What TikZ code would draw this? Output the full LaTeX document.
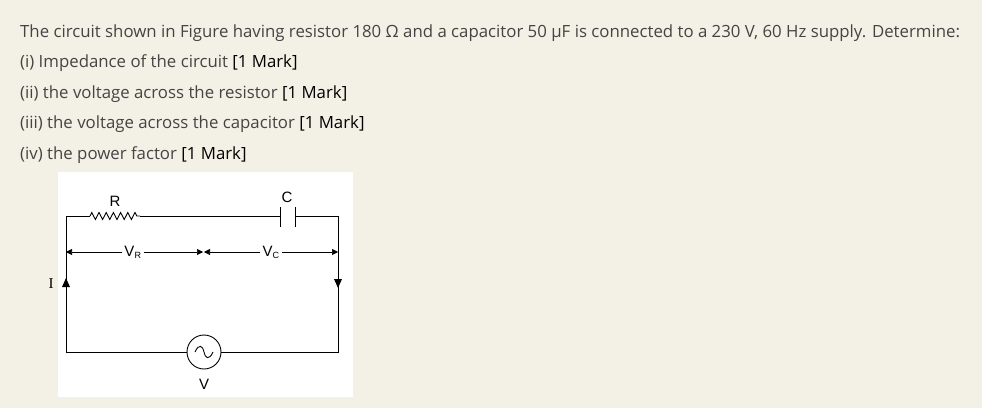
\documentclass[tikz,border=0pt]{standalone}
\usepackage{fontspec}
\setmainfont{Open Sans}
\newfontfamily\lblfont{Liberation Sans}
\newfontfamily\serfont{Liberation Serif}
\usetikzlibrary{arrows.meta,decorations.pathmorphing}
\definecolor{bg}{HTML}{F3F1E5}
\definecolor{txt}{HTML}{444444}
\begin{document}
\begin{tikzpicture}[x=1pt,y=-1pt,
  q/.style={anchor=west,inner sep=0,text=txt,font=\fontsize{16.8}{19}\selectfont},
  lbl/.style={inner sep=1pt,font=\lblfont\fontsize{15}{17}\selectfont},
  wire/.style={line width=0.9pt},
  dim/.style={line width=0.6pt}]
\fill[bg] (0,0) rectangle (982,408);
\useasboundingbox (0,0) rectangle (982,408);
\node[q] (t1) at (20,33) {The circuit shown in Figure having resistor 180 Ω and a capacitor 50 μF is connected to a 230 V, 60 Hz supply. Determine:};
\node[q] (t2) at (20,63) {(i) Impedance of the circuit \textcolor{black}{[1 Mark]}};
\node[q] (t3) at (20,94) {(ii) the voltage across the resistor \textcolor{black}{[1 Mark]}};
\node[q] (t4) at (20,124) {(iii) the voltage across the capacitor \textcolor{black}{[1 Mark]}};
\node[q] (t5) at (20,155) {(iv) the power factor \textcolor{black}{[1 Mark]}};
\fill[white] (58,172) rectangle (353,397);
\coordinate (tl) at (66,216);
\coordinate (tr) at (338,216);
\coordinate (bl) at (66,352);
\coordinate (br) at (338,352);
\coordinate (r1) at (90,216);
\coordinate (r2) at (140,216);
\coordinate (c1) at (280,216);
\coordinate (c2) at (295,216);
\node[circle,draw,line width=0.9pt,minimum size=34pt,inner sep=0] (src) at (204,352) {};
\draw[wire] (bl) -- (tl) -- (r1);
\draw[wire,decorate,decoration={zigzag,segment length=7.2pt,amplitude=3.5pt}] (r1) -- (r2);
\draw[wire] (r2) -- (c1);
\draw[wire] (c1 |- 0,207) -- (c1 |- 0,227);
\draw[wire] (c2 |- 0,207) -- (c2 |- 0,227);
\draw[wire] (c2) -- (tr) -- (br) -- (src.east);
\draw[wire] (src.west) -- (bl);
\draw[line width=0.9pt] ([xshift=-9pt]src.center) .. controls ([xshift=-5pt,yshift=9pt]src.center) and ([xshift=-1pt,yshift=6pt]src.center) .. (src.center) .. controls ([xshift=1pt,yshift=-6pt]src.center) and ([xshift=5pt,yshift=-9pt]src.center) .. ([xshift=9pt]src.center);
\node[lbl] (lR) at (115,201) {R};
\node[lbl] (lC) at (287,197) {C};
\node[lbl] (lV) at (204,384) {V};
\node[font=\serfont\fontsize{15}{17}\selectfont,inner sep=0] (lI) at (51,284) {I};
\coordinate (d1) at (66,252);
\coordinate (dm) at (203,252);
\coordinate (d2) at (338,252);
\node[lbl,fill=white,inner sep=2pt] (vr) at (133,252) {V\textsubscript{\fontsize{9}{10}\selectfont R}};
\node[lbl,fill=white,inner sep=2pt] (vc) at (271,252) {V\textsubscript{\fontsize{9}{10}\selectfont C}};
\draw[dim,-{Triangle[length=6pt,width=6pt]}] (vr) -- (d1);
\draw[dim,-{Triangle[length=6pt,width=6pt]}] (vr) -- (dm);
\draw[dim,-{Triangle[length=6pt,width=6pt]}] (vc) -- ([xshift=1pt]dm);
\draw[dim,-{Triangle[length=6pt,width=6pt]}] (vc) -- (d2);
\fill (66,278) -- (62,287) -- (70,287) -- cycle;
\fill (338,288) -- (334,279) -- (342,279) -- cycle;
\end{tikzpicture}
\end{document}
